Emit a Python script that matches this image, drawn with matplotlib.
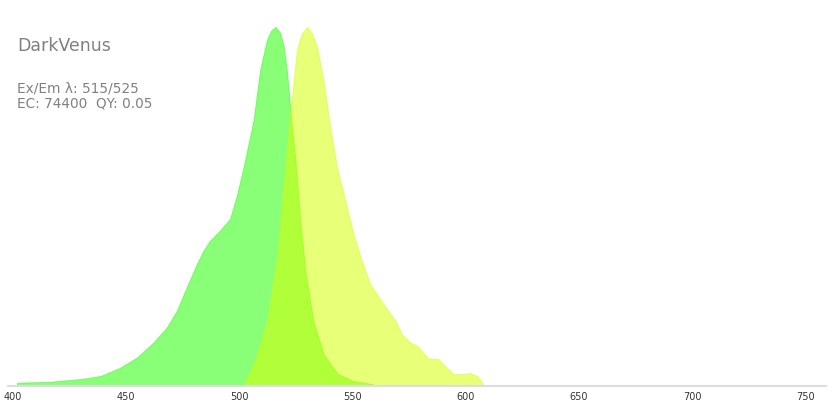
import numpy as np
from matplotlib import pyplot as plt

# spectra (wavelength nm, normalized intensity)
ex_wl = [402, 417, 431, 439, 447.5, 454.9, 462.2, 468.1, 472.5, 476.9, 481.4,
         484.3, 487.2, 491.6, 496, 499, 502, 506.4, 509.3, 512.3, 514.2, 516.1,
         518, 519.6, 521.1, 522.3, 523.3, 524.8, 527.1, 529.3, 532.9, 537.3,
         543.4, 550.5, 559]
ex_val = [0.009, 0.012, 0.02, 0.028, 0.051, 0.079, 0.121, 0.163, 0.209, 0.275,
          0.34, 0.377, 0.405, 0.433, 0.465, 0.53, 0.609, 0.74, 0.88, 0.964,
          0.99, 1.0, 0.985, 0.95, 0.88, 0.796, 0.725, 0.635, 0.458, 0.318,
          0.179, 0.089, 0.034, 0.014, 0.005]

em_wl = [502, 505, 508, 512.5, 517, 519.6, 522.3, 523.3, 525.5, 527.5, 530,
         532, 534.4, 537.3, 540.2, 543.2, 546.9, 550.5, 554.2, 557.9, 563.8,
         569, 571.9, 575.6, 578.8, 583.2, 585.8, 588, 591, 594.6, 598, 602,
         605.2, 608, 620, 650]
em_val = [0.003, 0.04, 0.089, 0.184, 0.369, 0.553, 0.74, 0.80, 0.935, 0.98,
          1.0, 0.985, 0.945, 0.85, 0.725, 0.61, 0.517, 0.424, 0.349, 0.284,
          0.228, 0.182, 0.144, 0.121, 0.112, 0.078, 0.075, 0.075, 0.055, 0.034,
          0.033, 0.036, 0.028, 0.003, 0.002, 0.002]

name = "DarkVenus"
info = "Ex/Em \u03bb: 515/525\nEC: 74400  QY: 0.05"
xticks = [400, 450, 500, 550, 600, 650, 700, 750]

ex_color = (32/255, 1.0, 0.0)
em_color = (212/255, 1.0, 0.0)

fig = plt.figure(figsize=(8.4, 4.2), dpi=100)
ax = fig.add_axes([0.0095, 0.081, 0.9735, 0.855])

ax.fill_between(ex_wl, ex_val, 0, facecolor=ex_color, edgecolor=ex_color,
                alpha=0.53, lw=0.6)
ax.fill_between(em_wl, em_val, 0, facecolor=em_color, edgecolor=em_color,
                alpha=0.53, lw=0.6)

ax.set_xlim(398, 759)
ax.set_ylim(0, 1.0)
ax.set_yticks([])
ax.set_xticks(xticks)
ax.tick_params(axis="x", length=0, labelsize=7, labelcolor="#333333", pad=4)
for side in ["top", "right", "left"]:
    ax.spines[side].set_visible(False)
ax.spines["bottom"].set_color("#dddddd")
ax.spines["bottom"].set_linewidth(1.5)

fig.text(17/840, 1 - 46/420, name, fontsize=12.5, color="#808080", va="center", ha="left")
fig.text(17/840, 1 - 96/420, info, fontsize=9.8, color="#808080", va="center", ha="left",
         linespacing=1.15)

fig.savefig("out.png", dpi=100)
